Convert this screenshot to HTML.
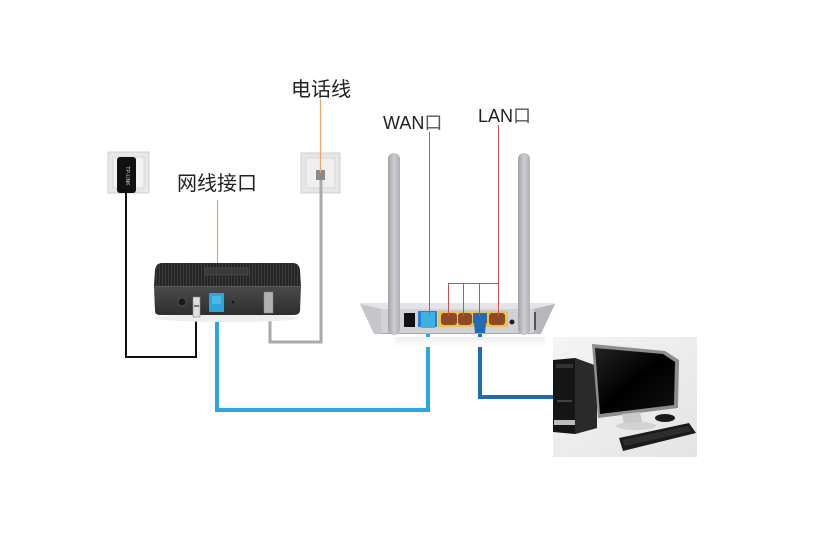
<!DOCTYPE html>
<html><head><meta charset="utf-8">
<style>
html,body{margin:0;padding:0;background:#fff;}
svg{display:block;}
.cn{font-family:"Liberation Sans","Noto Sans CJK SC",sans-serif;fill:#222;}
</style></head>
<body>
<svg width="839" height="541" viewBox="0 0 839 541" xmlns="http://www.w3.org/2000/svg">
<defs>
  <linearGradient id="ant" x1="0" x2="1" y1="0" y2="0">
    <stop offset="0" stop-color="#a2a2a6"/><stop offset="0.5" stop-color="#cdcdd1"/><stop offset="1" stop-color="#b0b0b4"/>
  </linearGradient>
  <linearGradient id="front" x1="0" x2="0" y1="0" y2="1">
    <stop offset="0" stop-color="#4a4a4a"/><stop offset="1" stop-color="#2e2e2e"/>
  </linearGradient>
  <linearGradient id="pcbg" x1="0" x2="1" y1="0" y2="1">
    <stop offset="0" stop-color="#f4f4f4"/><stop offset="1" stop-color="#e4e4e4"/>
  </linearGradient>
  <linearGradient id="scr" x1="0" x2="1" y1="0" y2="1">
    <stop offset="0" stop-color="#222"/><stop offset="0.5" stop-color="#000"/><stop offset="1" stop-color="#111"/>
  </linearGradient>
  <linearGradient id="refl" x1="0" x2="0" y1="0" y2="1">
    <stop offset="0" stop-color="#ededed"/><stop offset="1" stop-color="#ffffff"/>
  </linearGradient>
  <pattern id="ridge" width="3" height="4" patternUnits="userSpaceOnUse">
    <rect width="3" height="4" fill="#262626"/><rect x="0" width="1" height="4" fill="#3d3d3d"/>
  </pattern>
</defs>

<!-- Power outlet -->
<rect x="108" y="152" width="41" height="41" fill="#e8e8e8" stroke="#cfcfcf"/>
<rect x="113" y="157" width="31" height="31" fill="#f3f3f3" stroke="#d6d6d6"/>
<rect x="117" y="157" width="19" height="36" rx="3" fill="#111"/>
<text x="126" y="176" font-size="5" fill="#ccc" text-anchor="middle" font-family="Liberation Sans,sans-serif" transform="rotate(90 126 176)">TP-LINK</text>

<!-- Phone jack -->
<rect x="301" y="153" width="39" height="40" fill="#e6e6e6" stroke="#cfcfcf"/>
<rect x="306" y="158" width="29" height="30" fill="#efefef" stroke="#d8d8d8"/>
<rect x="316" y="170" width="9" height="10" fill="#8a8a8a"/>

<!-- Labels -->
<text class="cn" x="291" y="96" font-size="20">电话线</text>
<text class="cn" x="177" y="190" font-size="20">网线接口</text>
<text class="cn" x="383" y="129" font-size="18">WAN<tspan fill="#555">口</tspan></text>
<text class="cn" x="478" y="122" font-size="18">LAN<tspan fill="#555">口</tspan></text>

<!-- Orange leader lines -->
<line x1="320.5" y1="99" x2="320.5" y2="173" stroke="#f0a060" stroke-width="1.2"/>
<line x1="217.5" y1="200" x2="217.5" y2="298" stroke="#f0a060" stroke-width="1.2"/>

<!-- Cables -->
<polyline points="126,193 126,357 196,357 196,317" fill="none" stroke="#111" stroke-width="2"/>
<polyline points="321,180 321,342 270,342 270,310" fill="none" stroke="#aaa" stroke-width="3"/>
<polyline points="217,312 217,410 428,410 428,327" fill="none" stroke="#2ba6de" stroke-width="4"/>
<polyline points="480,333 480,397 553,397" fill="none" stroke="#1f6cb5" stroke-width="4"/>

<!-- Modem -->
<ellipse cx="227" cy="318" rx="72" ry="4" fill="#eeeeee"/>
<path d="M162,263 L293,263 Q299,263 300,270 L301,286 L154,286 L155,270 Q156,263 162,263 Z" fill="url(#ridge)"/>
<rect x="205" y="268" width="43" height="7" fill="#3a3a3a" stroke="#555" stroke-width="0.6"/>
<path d="M154,286 L301,286 L300,311 Q299,315 294,315 L160,315 Q155,315 155,311 Z" fill="url(#front)"/>
<line x1="155" y1="286.5" x2="300" y2="286.5" stroke="#5a5a5a" stroke-width="1"/>
<circle cx="182" cy="302" r="4" fill="#1a1a1a" stroke="#555" stroke-width="0.8"/>
<rect x="193" y="297" width="7" height="20" fill="#e0e0e0" stroke="#888" stroke-width="0.6"/>
<rect x="194" y="305" width="5" height="2" fill="#777"/>
<circle cx="233" cy="302" r="1.3" fill="#111"/>
<rect x="209" y="293" width="15" height="19" rx="1" fill="#2ba6de"/>
<rect x="212" y="296" width="9" height="8" fill="#49b8ea"/>
<rect x="264" y="292" width="9" height="21" fill="#b0b0b0" stroke="#888" stroke-width="0.5"/>

<!-- Router -->
<rect x="395" y="337" width="150" height="10" fill="url(#refl)"/>
<polygon points="360,303 555,303 553,309 362,309" fill="#e4e4e8"/>
<polygon points="360,304 382,309 382,334 374,334" fill="#c6c6ca"/>
<polygon points="555,304 533,309 533,334 541,334" fill="#b8b8bc"/>
<rect x="532" y="312" width="4" height="18" fill="#555"/>
<rect x="381" y="309" width="153" height="25" fill="#d2d2d6"/>
<line x1="381" y1="333.5" x2="534" y2="333.5" stroke="#a8a8ac"/>
<rect x="404" y="313" width="11" height="14" fill="#111"/>
<rect x="418" y="311" width="19" height="16" fill="#2a7ccf"/>
<rect x="438" y="311" width="70" height="16" fill="#e7c35a"/>
<rect x="441" y="313" width="16" height="12" rx="3" fill="#8e4a22"/>
<rect x="458" y="313" width="14" height="12" rx="3" fill="#8e4a22"/>
<rect x="473" y="313" width="14" height="12" rx="3" fill="#8e4a22"/>
<rect x="489" y="313" width="16" height="12" rx="3" fill="#8e4a22"/>
<circle cx="512" cy="322" r="2.5" fill="#222"/>
<!-- connectors in router -->
<rect x="421" y="312" width="14" height="16" fill="#3eb0e4"/>
<polygon points="473,313 487,313 485,333 475,333" fill="#1f6cb5"/>
<!-- antennas -->
<rect x="388" y="153" width="12" height="182" rx="6" fill="url(#ant)"/>
<rect x="518" y="153" width="12" height="182" rx="6" fill="url(#ant)"/>
<!-- red leaders -->
<g stroke="#d05050" stroke-width="1" fill="none">
  <line x1="429.5" y1="132" x2="429.5" y2="315"/>
  <line x1="498.5" y1="125" x2="498.5" y2="316"/>
  <polyline points="448.5,316 448.5,283.5 498.5,283.5"/>
  <line x1="463.5" y1="283.5" x2="463.5" y2="316"/>
  <line x1="479.5" y1="283.5" x2="479.5" y2="316"/>
</g>

<!-- Computer -->
<rect x="553" y="337" width="144" height="120" fill="url(#pcbg)"/>
<!-- tower -->
<polygon points="553,360 575,358 597,366 597,428 575,434 553,432" fill="#151515"/>
<polygon points="575,358 597,366 597,428 575,434" fill="#2a2a2a"/>
<rect x="556" y="364" width="17" height="4" fill="#333"/>
<rect x="557" y="400" width="15" height="2" fill="#444"/>
<rect x="554" y="420" width="21" height="5" fill="#bdbdbd"/>
<!-- monitor -->
<polygon points="592,344 665,351 679,360 678,408 598,418" fill="#8d8d8d"/>
<polygon points="595,348 663,354 675,362 674,405 600,414" fill="url(#scr)"/>
<polygon points="622,414 640,412 642,422 624,424" fill="#c8c8c8"/>
<ellipse cx="636" cy="426" rx="20" ry="4" fill="#d2d2d2"/>
<ellipse cx="665" cy="418" rx="10" ry="4" fill="#1a1a1a"/>
<!-- keyboard -->
<polygon points="619,438 689,423 696,433 623,451" fill="#1b1b1b"/>
<polygon points="622,440 688,426 692,431 625,446" fill="#2d2d2d"/>
</svg>
</body></html>
